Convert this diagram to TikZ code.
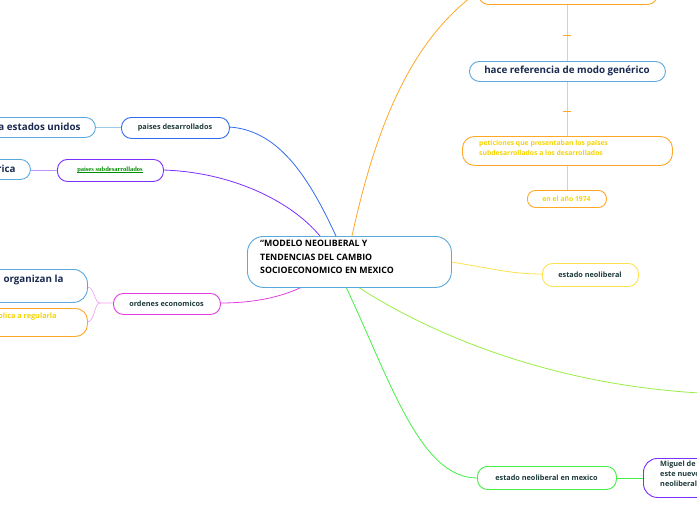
\documentclass[tikz,border=0pt]{standalone}
\usepackage{fontspec}
\setmainfont{Open Sans}
\newfontfamily\serifu{Liberation Serif}
\definecolor{cblue}{HTML}{2F6BF0}
\definecolor{lblue}{HTML}{5AA9DC}
\definecolor{cpurp}{HTML}{7B2FFF}
\definecolor{cmag}{HTML}{E040E0}
\definecolor{corg}{HTML}{FFA726}
\definecolor{cyel}{HTML}{FFE14D}
\definecolor{ctxt}{HTML}{F5D400}
\definecolor{cgreen}{HTML}{44EE44}
\definecolor{cgreen2}{HTML}{99EE44}
\definecolor{navy}{HTML}{1A2A50}
\definecolor{dgreen}{HTML}{1E3A3A}
\begin{document}
\begin{tikzpicture}[x=1pt,y=-1pt,
 bx/.style={draw,rounded corners=10pt,fill=white,line width=0.9pt,inner sep=0pt,anchor=north west},
 sm/.style={font=\fontsize{7.3}{9}\selectfont\bfseries,text=dgreen},
 md/.style={font=\fontsize{9.8}{12}\selectfont\bfseries,text=navy}]
\useasboundingbox (0,0) rectangle (697,520);
% connectors
\draw[corg,line width=0.8pt] (352,236) .. controls (375,130) and (410,40) .. (478,-8);
\draw[corg!60,line width=0.8pt] (567,4) -- (567,190);
\foreach \y in {35,111}\draw[corg,line width=1pt] (563,\y) -- (571,\y);
\draw[cyel,line width=0.8pt] (451,262) .. controls (490,268) and (510,274) .. (542,274);
\draw[cgreen2,line width=0.8pt] (358,287) .. controls (440,340) and (560,385) .. (700,393);
\draw[cgreen,line width=0.8pt] (346,287) .. controls (390,380) and (420,478) .. (477,478);
\draw[cgreen,line width=0.6pt] (616,478) -- (643,478);
\draw[cblue,line width=0.8pt] (229,127) .. controls (280,130) and (310,180) .. (336,236);
\draw[lblue!60,line width=0.8pt] (95,127) -- (121,127);
\draw[cpurp,line width=0.8pt] (163,170) .. controls (230,172) and (290,200) .. (320,236);
\draw[cpurp!50,line width=0.8pt] (30,170) -- (57,170);
\draw[cmag,line width=0.8pt] (220,303) .. controls (260,303) and (285,295) .. (302,287);
\draw[cmag!50,line width=0.6pt] (113,303) -- (100,303) .. controls (94,303) and (95,287) .. (87,287);
\draw[cmag!50,line width=0.6pt] (100,303) .. controls (94,303) and (95,322) .. (87,322);
% nodes
\node[bx,draw=corg,minimum width=179pt,minimum height=24pt] (top) at (478,-20) {};
\node[bx,draw=lblue,rounded corners=16pt,minimum width=204pt,minimum height=51pt] (c) at (247,236) {};
\node[anchor=north west,align=left,font=\fontsize{8.8}{13.5}\selectfont\bfseries,text=black,inner sep=0pt] at (260,240) {“MODELO NEOLIBERAL Y\\TENDENCIAS DEL CAMBIO\\SOCIOECONOMICO EN MEXICO};
\node[bx,draw=lblue,minimum width=196pt,minimum height=20pt,md] (h) at (469,61) {};
\node[md] at (567,71) {hace referencia de modo genérico};
\node[bx,draw=corg,rounded corners=12pt,minimum width=210pt,minimum height=29pt] (p) at (462,136) {};
\node[anchor=north west,align=left,inner sep=0pt,font=\fontsize{6.8}{10}\selectfont\bfseries,text=ctxt] at (479,140) {peticiones que presentaban los países\\subdesarrollados a los desarrollados};
\node[bx,draw=corg,rounded corners=8pt,minimum width=79pt,minimum height=17pt] (a) at (527,190) {};
\node[font=\fontsize{6.8}{8}\selectfont\bfseries,text=ctxt] at (566.5,198.5) {en el año 1974};
\node[bx,draw=cyel,minimum width=96pt,minimum height=23pt] (en) at (542,263) {};
\node[sm] at (590,274.5) {estado neoliberal};
\node[bx,draw=cgreen,minimum width=139pt,minimum height=23pt] (em) at (477,466) {};
\node[sm] at (546.5,477.5) {estado neoliberal en mexico};
\node[bx,draw=cpurp,rounded corners=14pt,minimum width=80pt,minimum height=39pt] (mi) at (643,458) {};
\node[anchor=north west,align=left,inner sep=0pt,font=\fontsize{7.3}{10}\selectfont\bfseries,text=dgreen] at (660,461) {Miguel de\\este nuevo\\neoliberal};
\node[bx,draw=cblue,minimum width=108pt,minimum height=21pt] (pd) at (121,117) {};
\node[sm] at (175,127.5) {paises desarrollados};
\node[bx,draw=lblue,minimum width=115pt,minimum height=20pt] (eu) at (-20,117) {};
\node[md,anchor=east] at (84,127) {a estados unidos};
\node[bx,draw=cpurp,minimum width=106pt,minimum height=22pt] (ps) at (57,159) {};
\node[font=\fontsize{6.5}{8}\selectfont\serifu\bfseries,text=green!55!black,inner sep=0pt] (pst) at (110,170) {paises subdesarrollados};
\draw[green!55!black,line width=0.4pt] ([yshift=1pt]pst.south west) -- ([yshift=1pt]pst.south east);
\node[bx,draw=lblue,minimum width=50pt,minimum height=20pt] (ri) at (-20,159) {};
\node[md,anchor=east] at (19,169) {rica};
\node[bx,draw=cmag,minimum width=107pt,minimum height=21pt] (oe) at (113,293) {};
\node[sm] at (166.5,303.5) {ordenes economicos};
\node[bx,draw=lblue,rounded corners=14pt,minimum width=107pt,minimum height=33pt] (or) at (-20,269) {};
\node[md,anchor=west] at (0,280) {organizan la};
\node[bx,draw=corg,rounded corners=12pt,minimum width=107pt,minimum height=28pt] (pr) at (-20,308) {};
\node[anchor=west,inner sep=0pt,font=\fontsize{7.3}{9}\selectfont\bfseries,text=ctxt] at (-2,317) {plica a regularla};
\end{tikzpicture}
\end{document}
